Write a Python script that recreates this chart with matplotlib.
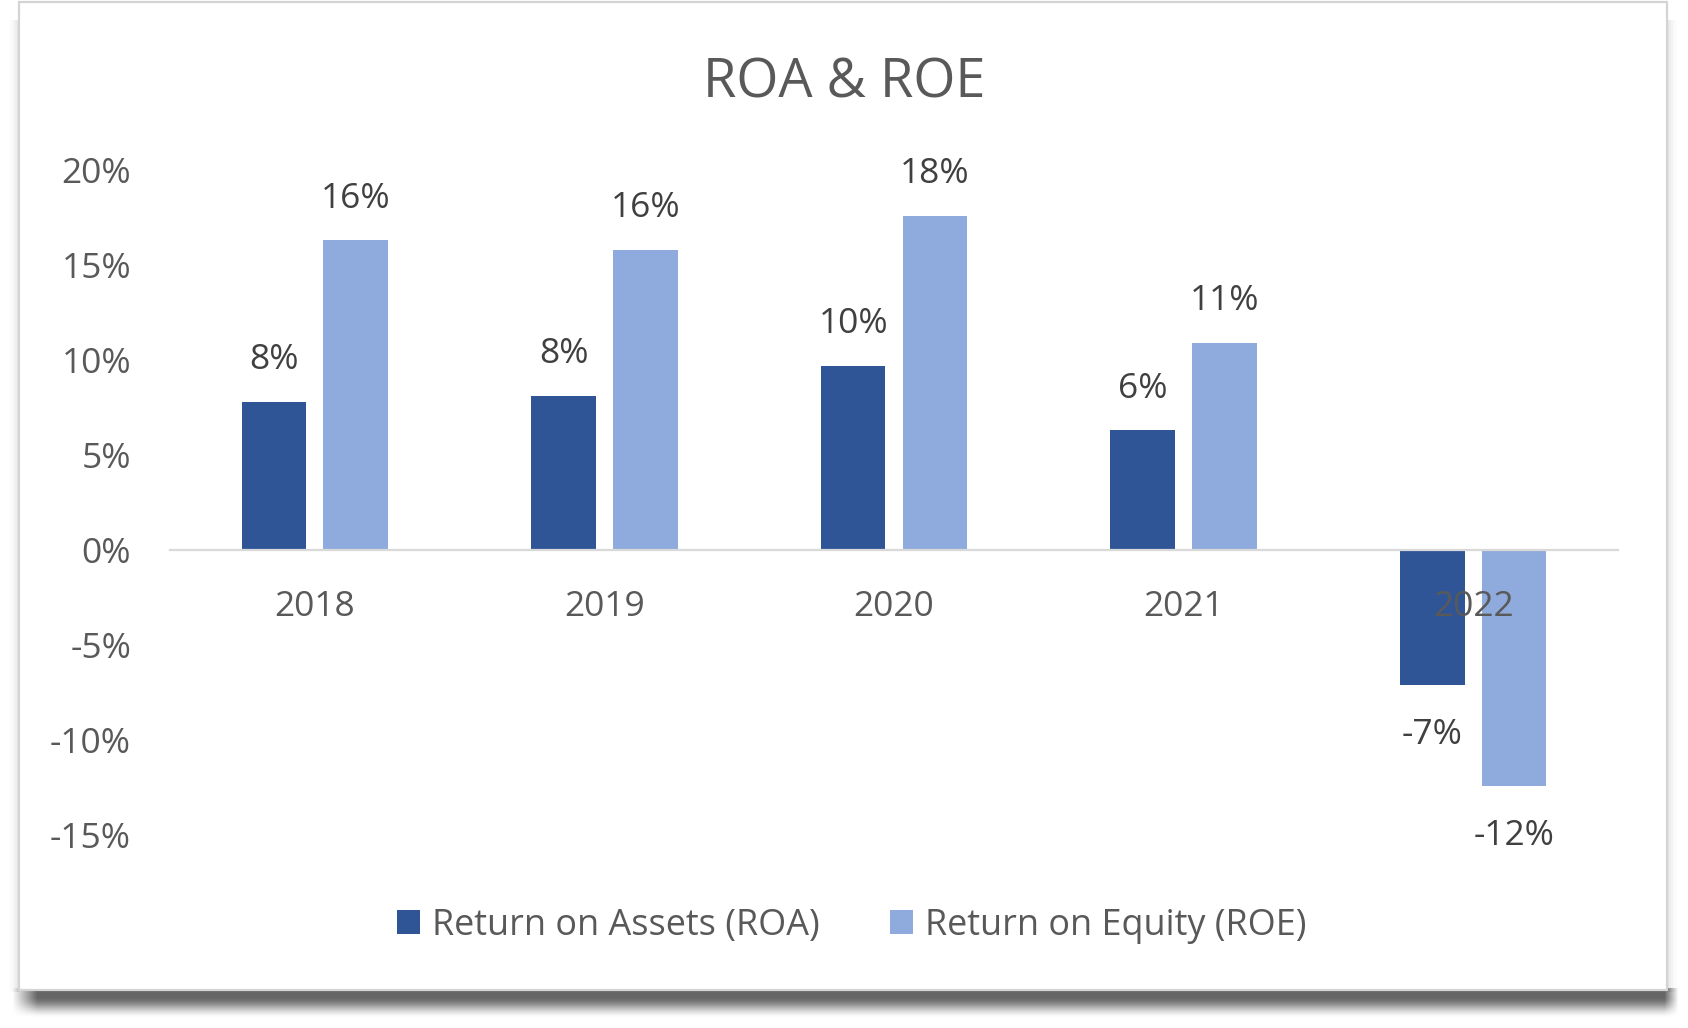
import numpy as np
import matplotlib
matplotlib.use("Agg")
import matplotlib.pyplot as plt
from matplotlib.ticker import FuncFormatter, FixedLocator
from matplotlib.patches import Rectangle

plt.rcParams['font.family'] = ['Open Sans', 'DejaVu Sans']
plt.rcParams['axes.unicode_minus'] = False

# ---- data ----
years = ["2018", "2019", "2020", "2021", "2022"]
roa = [0.078, 0.081, 0.097, 0.063, -0.071]
roe = [0.163, 0.158, 0.176, 0.109, -0.124]
series_names = ["Return on Assets (ROA)", "Return on Equity (ROE)"]
yticks = [-0.15, -0.10, -0.05, 0.0, 0.05, 0.10, 0.15, 0.20]
title = "ROA & ROE"

c_roa = "#2F5597"
c_roe = "#8FAADC"
txt_gray = "#595959"
lbl_gray = "#404040"

W, H = 1688, 1028
fig = plt.figure(figsize=(W / 100, H / 100), dpi=100)
fig.patch.set_facecolor("white")

# ---- background frame with shadow ----
bg = fig.add_axes([0, 0, 1, 1], zorder=-10)
bg.set_xlim(0, W)
bg.set_ylim(H, 0)
bg.axis("off")

ys = np.arange(985, 1028)
xs = np.arange(0, W)
vy = np.clip((ys - 996) / 22.0, 0, 1)
dark_y = 1 - (vy * vy * (3 - 2 * vy))
dark_y[ys < 988] = 0
xl = np.clip((xs - 12) / 25.0, 0, 1)
xr = np.clip((1678 - xs) / 14.0, 0, 1)
dark_x = np.minimum(xl, xr)
dark = np.outer(dark_y, dark_x)
img = 1 - 0.60 * dark
bg.imshow(img, cmap="gray", vmin=0, vmax=1, extent=(0, W, 1028, 985),
          aspect="auto", interpolation="bilinear", zorder=0)

for i, a in enumerate([0.10, 0.07, 0.045, 0.025, 0.012]):
    bg.add_patch(Rectangle((19 - 2 * (i + 1), 20), 2, 972, color="black",
                           alpha=a, lw=0, zorder=1))
    bg.add_patch(Rectangle((1667 + 2 * i, 20), 2, 972, color="black",
                           alpha=a, lw=0, zorder=1))

bg.add_patch(Rectangle((19, 2), 1648, 988, facecolor="white",
                       edgecolor="#d4d4d4", lw=1.6, zorder=2))

# ---- main chart ----
ax = fig.add_axes([170 / W, 1 - 835 / H, (1618 - 170) / W, (835 - 170) / H])
ax.set_facecolor("none")
x = np.arange(len(years))
bw = 0.223
off = 0.141
b1 = ax.bar(x - off, roa, bw, color=c_roa, label=series_names[0], zorder=1)
b2 = ax.bar(x + off, roe, bw, color=c_roe, label=series_names[1], zorder=1)

ax.set_xlim(-0.5, len(years) - 0.5)
ax.set_ylim(-0.15, 0.20)
ax.yaxis.set_major_locator(FixedLocator(yticks))
ax.yaxis.set_major_formatter(FuncFormatter(lambda v, p: f"{v * 100:.0f}%"))

for s in ["top", "right", "left"]:
    ax.spines[s].set_visible(False)
ax.spines["bottom"].set_position(("data", 0))
ax.spines["bottom"].set_color("#d9d9d9")
ax.spines["bottom"].set_linewidth(1.6)

ax.set_xticks(x)
ax.set_xticklabels(years)
ax.tick_params(axis="x", length=0, pad=29, labelsize=25.5, labelcolor=txt_gray)
ax.tick_params(axis="y", length=0, pad=28, labelsize=25.5, labelcolor=txt_gray)
ax.xaxis.set_zorder(3)

for bars, vals in [(b1, roa), (b2, roe)]:
    for rect, v in zip(bars, vals):
        cx = rect.get_x() + rect.get_width() / 2
        dy = 30 if v >= 0 else -36
        ax.annotate(f"{v * 100:.0f}%", (cx, v), xytext=(0, dy),
                    textcoords="offset points", ha="center", va="center",
                    fontsize=25.5, color=lbl_gray)

fig.text(0.5, 1 - 83 / H, title, ha="center", va="center",
         fontsize=39, color=txt_gray)

leg = fig.legend(handles=[b1, b2], labels=series_names, loc="center",
                 bbox_to_anchor=(852 / W, 1 - 926 / H), ncol=2, frameon=False,
                 fontsize=25.9, handlelength=0.64, handleheight=0.64,
                 handletextpad=0.33, columnspacing=1.95, borderaxespad=0)
for t in leg.get_texts():
    t.set_color(txt_gray)

fig.savefig("out.png", dpi=100, facecolor="white")
